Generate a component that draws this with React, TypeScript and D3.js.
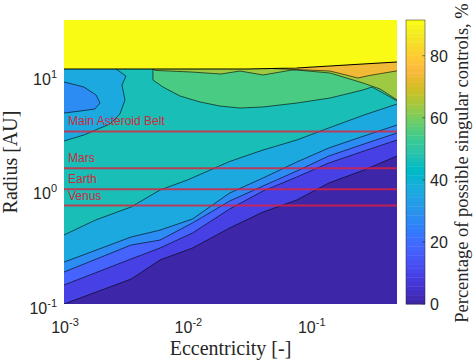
import React from 'react';
import * as d3 from 'd3';

// ---------- data ----------
const eccentricityDomain: [number, number] = [0.001, 0.5];
const radiusDomain: [number, number] = [0.1, 30];
const xTickValues = [0.001, 0.01, 0.1];
const xTickExponents = ['-3', '-2', '-1'];
const yTickValues = [0.1, 1, 10];
const yTickExponents = ['-1', '0', '1'];
const colorMax = 91.5;
const fillColorMax = 100;
const colorbarTicks = [0, 20, 40, 60, 80];

const bodyNames = ['Venus', 'Earth', 'Mars', 'Main Asteroid Belt'];
const bodyRadius = [0.723, 1.0, 1.524, 3.2];

// contour boundaries [eccentricity, radius AU]
const level10: [number, number][] = [
  [0.001, 0.1], [0.0035, 0.165], [0.006, 0.242], [0.011, 0.308], [0.022, 0.46],
  [0.041, 0.634], [0.077, 0.807], [0.14, 1.136], [0.27, 1.475], [0.5, 1.954],
];
const level20: [number, number][] = [
  [0.001, 0.1465], [0.0035, 0.247], [0.006, 0.308], [0.011, 0.416], [0.022, 0.674],
  [0.041, 0.967], [0.077, 1.281], [0.14, 1.698], [0.27, 2.16], [0.5, 2.694],
];
const level30: [number, number][] = [
  [0.001, 0.19], [0.0035, 0.327], [0.006, 0.361], [0.011, 0.509], [0.022, 0.791],
  [0.041, 1.07], [0.077, 1.445], [0.14, 1.954], [0.27, 2.487], [0.5, 3.1],
];
const level40: [number, number][] = [
  [0.001, 0.232], [0.0035, 0.384], [0.006, 0.441], [0.011, 0.551], [0.022, 0.929],
  [0.041, 1.256], [0.077, 1.732], [0.14, 2.295], [0.27, 2.92], [0.5, 3.64],
];
const level50: [number, number][] = [
  [0.001, 0.4], [0.0018, 0.54], [0.0035, 0.702], [0.006, 0.987], [0.01, 1.206],
  [0.022, 1.75], [0.041, 2.203], [0.077, 2.694], [0.14, 3.43], [0.27, 4.45], [0.5, 5.55],
];
const level50TopLeft: [number, number][] = [
  [0.00264, 11.21], [0.00318, 9.74], [0.00295, 8.13], [0.00312, 6.02],
  [0.00284, 4.54], [0.00236, 3.72], [0.00145, 2.98], [0.001, 2.64],
];
const level40Island: [number, number][] = [
  [0.001, 8.64], [0.00145, 7.81], [0.00182, 6.65], [0.00196, 5.66],
  [0.00178, 5.02], [0.00137, 4.83], [0.001, 4.63],
];
const level60: [number, number][] = [
  [0.00526, 11.21], [0.00526, 8.99], [0.00634, 7.81], [0.00871, 6.52], [0.01265, 5.78],
  [0.01837, 5.33], [0.02668, 5.12], [0.041, 5.23], [0.077, 5.66], [0.143, 6.26],
  [0.265, 7.36], [0.313, 7.81], [0.399, 6.79], [0.5, 5.9],
];
const level70: [number, number][] = [
  [0.00526, 11.21], [0.0055, 10.9], [0.0107, 10.56], [0.0187, 10.14], [0.0267, 10.77],
  [0.041, 9.94], [0.0704, 10.99], [0.077, 10.99], [0.143, 10.35], [0.265, 8.47],
  [0.364, 7.51], [0.447, 6.52], [0.5, 6.02],
];
const level80: [number, number][] = [
  [0.05, 11.3], [0.1, 10.95], [0.143, 10.77], [0.241, 9.36], [0.3, 9.85], [0.5, 10.8],
];
const level90: [number, number][] = [
  [0.001, 11.21], [0.03, 11.21], [0.077, 11.44], [0.143, 11.91], [0.265, 12.4], [0.5, 12.9],
];

// MATLAB parula colormap (64 entries)
const parula64: number[][] = [
  [0.2422, 0.1504, 0.6603], [0.2504, 0.165, 0.7076], [0.2578, 0.1818, 0.7511], [0.2647, 0.1978, 0.7952],
  [0.2706, 0.2147, 0.8364], [0.2751, 0.2342, 0.871], [0.2783, 0.2559, 0.8991], [0.2803, 0.2782, 0.9221],
  [0.2813, 0.3006, 0.9414], [0.281, 0.3228, 0.9579], [0.2795, 0.3447, 0.9717], [0.276, 0.3667, 0.9829],
  [0.2699, 0.3892, 0.9906], [0.2602, 0.4123, 0.9952], [0.244, 0.4358, 0.9988], [0.2206, 0.4603, 0.9973],
  [0.1963, 0.4847, 0.9892], [0.1834, 0.5074, 0.9798], [0.1786, 0.5289, 0.9682], [0.1764, 0.5499, 0.952],
  [0.1687, 0.5703, 0.9359], [0.154, 0.5902, 0.9218], [0.146, 0.6091, 0.9079], [0.138, 0.6276, 0.8973],
  [0.1248, 0.6459, 0.8883], [0.1113, 0.6635, 0.8763], [0.0952, 0.6798, 0.8598], [0.0689, 0.6948, 0.8394],
  [0.0297, 0.7082, 0.8163], [0.0036, 0.7203, 0.7917], [0.0067, 0.7312, 0.766], [0.0433, 0.7411, 0.7394],
  [0.0964, 0.75, 0.712], [0.1408, 0.7584, 0.6842], [0.1717, 0.767, 0.6554], [0.1938, 0.7758, 0.6251],
  [0.2161, 0.7843, 0.5923], [0.247, 0.7918, 0.5567], [0.2906, 0.7973, 0.5188], [0.3406, 0.8008, 0.4789],
  [0.3909, 0.8029, 0.4354], [0.4456, 0.8024, 0.3909], [0.5044, 0.7993, 0.348], [0.5616, 0.7942, 0.3045],
  [0.6174, 0.7876, 0.2612], [0.672, 0.7793, 0.2227], [0.7242, 0.7698, 0.191], [0.7738, 0.7598, 0.1646],
  [0.8203, 0.7498, 0.1535], [0.8634, 0.7406, 0.1596], [0.9035, 0.733, 0.1774], [0.9393, 0.7288, 0.21],
  [0.9728, 0.7298, 0.2394], [0.9956, 0.7434, 0.2371], [0.997, 0.7659, 0.2199], [0.9952, 0.7893, 0.2028],
  [0.9892, 0.8136, 0.1885], [0.9786, 0.8386, 0.1766], [0.9676, 0.8639, 0.1643], [0.961, 0.889, 0.1537],
  [0.9597, 0.9135, 0.1423], [0.9628, 0.9373, 0.1265], [0.9691, 0.9606, 0.1064], [0.9769, 0.9839, 0.0805],
];

const toRgb = (c: number[]) =>
  `rgb(${Math.round(c[0] * 255)},${Math.round(c[1] * 255)},${Math.round(c[2] * 255)})`;
const levelColor = (v: number, top: boolean) =>
  top
    ? toRgb(parula64[63])
    : toRgb(parula64[Math.max(0, Math.min(63, Math.floor((v / fillColorMax) * 64)))]);

const SANS = "'Liberation Sans', Arial, Helvetica, sans-serif";
const SERIF = "'Liberation Serif', 'Times New Roman', serif";

export default function App() {
  const plotL = 64, plotR = 397, plotT = 20, plotB = 304;
  const x = d3.scaleLog().domain(eccentricityDomain).range([plotL, plotR]);
  const y = d3.scaleLog().domain(radiusDomain).range([plotB, plotT]);
  const cb = d3.scaleLinear().domain([0, colorMax]).range([plotB, plotT]);
  const line = d3.line<[number, number]>().x(d => x(d[0])).y(d => y(d[1]));

  const [e0, e1] = eccentricityDomain;
  const [r0, rTop] = radiusDomain;
  const above = (l: [number, number][]) => [...l, [e1, rTop], [e0, rTop]] as [number, number][];
  const topDown = (l: [number, number][]) =>
    [[e0, rTop], [e1, rTop], ...l.slice().reverse(), [e0, l[0][1]]] as [number, number][];

  const bands: { level: number; poly: [number, number][] }[] = [
    { level: 0, poly: [[e0, r0], [e1, r0], [e1, rTop], [e0, rTop]] },
    { level: 10, poly: above(level10) },
    { level: 20, poly: above(level20) },
    { level: 30, poly: above(level30) },
    { level: 40, poly: above(level40) },
    { level: 30, poly: level40Island },
    { level: 50, poly: [...level50, [e1, rTop], [e0, rTop], [e0, level50TopLeft[0][1]], ...level50TopLeft] },
    { level: 60, poly: topDown(level60) },
    { level: 70, poly: topDown(level70) },
    { level: 80, poly: topDown(level80) },
    { level: 90, poly: topDown(level90) },
  ];
  const contourLines = [level10, level20, level30, level40, level40Island, level50, level50TopLeft, level60, level70, level80];

  const cbX = 406, cbW = 19;

  return (
    <svg width={474} height={361} style={{ position: 'absolute', left: 0, top: 0, background: '#fff' }}>
      <defs>
        <clipPath id="plotClip">
          <rect x={plotL} y={plotT} width={plotR - plotL} height={plotB - plotT} />
        </clipPath>
      </defs>
      <g clipPath="url(#plotClip)">
        {bands.map((b, i) => (
          <path key={i} d={line(b.poly) + 'Z'} fill={levelColor(b.level, i === bands.length - 1)} stroke="none" />
        ))}
        {contourLines.map((l, i) => (
          <path key={'c' + i} d={line(l) || ''} fill="none" stroke="#000" strokeWidth={0.6} strokeLinejoin="round" />
        ))}
        <path d={line(level90) || ''} fill="none" stroke="#000" strokeWidth={1.1} />
        {bodyRadius.map((r, i) => (
          <line key={'r' + i} x1={x(e0)} x2={x(e1)} y1={y(r)} y2={y(r)} stroke="#e0203c" strokeOpacity={0.8} strokeWidth={2} />
        ))}
      </g>
      {bodyRadius.map((r, i) => (
        <text key={'t' + i} x={68} y={y(r) - 6} fontFamily={SANS} fontSize={12} fill="#cc2a3e">
          {bodyNames[i]}
        </text>
      ))}

      {/* x tick labels */}
      {xTickValues.map((v, i) => (
        <text key={'x' + i} x={x(v) + 1} y={333} textAnchor="middle" fontFamily={SANS} fontSize={16} fill="#262626">
          10<tspan dy={-7} fontSize={11}>{xTickExponents[i]}</tspan>
        </text>
      ))}
      {/* y tick labels */}
      {yTickValues.map((v, i) => (
        <text key={'y' + i} x={57} y={y(v) + 10} textAnchor="end" fontFamily={SANS} fontSize={16} fill="#262626">
          10<tspan dy={-7} fontSize={11}>{yTickExponents[i]}</tspan>
        </text>
      ))}

      <text x={(plotL + plotR) / 2} y={355} textAnchor="middle" fontFamily={SERIF} fontSize={20} fill="#262626">
        Eccentricity [-]
      </text>
      <text transform={`translate(17,${(plotT + plotB) / 2}) rotate(-90)`} textAnchor="middle" fontFamily={SERIF} fontSize={20} fill="#262626">
        Radius [AU]
      </text>

      {/* colorbar */}
      {parula64.map((c, i) => {
        const yTop = cb(((i + 1) / 64) * colorMax);
        const yBot = cb((i / 64) * colorMax);
        return <rect key={'cb' + i} x={cbX} y={yTop} width={cbW} height={yBot - yTop + 0.4} fill={toRgb(c)} />;
      })}
      <rect x={cbX} y={plotT} width={cbW} height={plotB - plotT} fill="none" stroke="#262626" strokeWidth={0.5} />
      {colorbarTicks.map(t => (
        <g key={'ct' + t}>
          <line x1={cbX + cbW} x2={cbX + cbW - 3} y1={cb(t)} y2={cb(t)} stroke="#262626" strokeWidth={0.5} />
          <text x={430} y={cb(t) + 6} fontFamily={SANS} fontSize={16} fill="#262626">{t}</text>
        </g>
      ))}
      <text transform={`translate(468,163) rotate(-90)`} textAnchor="middle" fontFamily={SERIF} fontSize={18.5} fill="#262626">
        Percentage of possible singular controls, %
      </text>
    </svg>
  );
}
